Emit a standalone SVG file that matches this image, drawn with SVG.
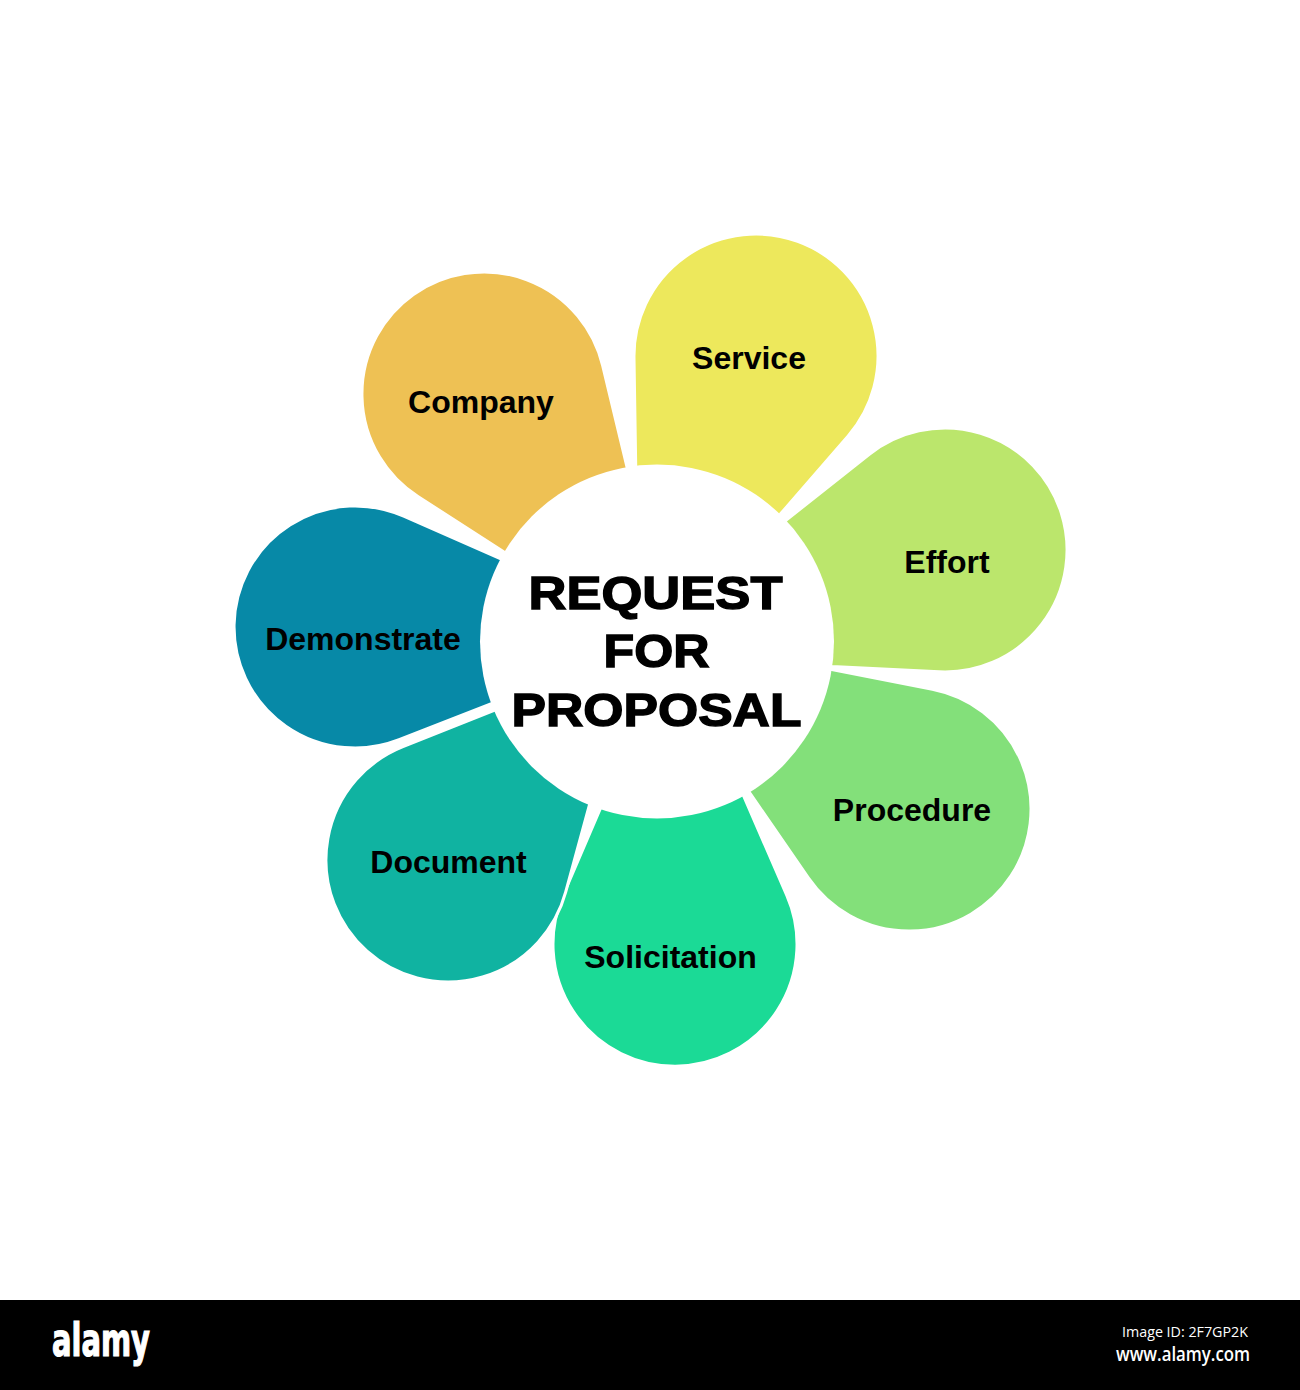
<svg xmlns="http://www.w3.org/2000/svg" width="1300" height="1390" viewBox="0 0 1300 1390">
  <style>
    .petal { stroke: #ffffff; stroke-width: 3; stroke-linejoin: round; }
    .label { font-family: "Liberation Sans", Arial, sans-serif; font-weight: bold; font-size: 32px; fill: #000000; text-anchor: middle; }
    .title { font-family: "Liberation Sans", Arial, sans-serif; font-weight: bold; font-size: 47px; fill: #000000; stroke: #000000; stroke-width: 1.4; text-anchor: middle; }
    .brand { font-family: "Liberation Sans Narrow", "DejaVu Sans Condensed", "Liberation Sans", sans-serif; font-weight: bold; fill: #ffffff; stroke: #ffffff; stroke-width: 1.2; }
    .foot { font-family: "Open Sans", "DejaVu Sans", sans-serif; fill: #ffffff; }
  </style>
  <rect x="0" y="0" width="1300" height="1390" fill="#ffffff"/>

  <g id="connectors"/>

  <g id="node-company">
    <path class="petal" fill="#EEC154" d="M 657 641 L 504.0 552.0 L 417.9 496.5 A 122 122 0 1 1 602.6 365.5 L 626.9 466.6 Z"/>
  </g>
  <g id="node-service">
    <path class="petal" fill="#EDE85C" d="M 657 641 L 635.7 465.3 L 634.0 358.0 A 122 122 0 1 1 848.2 435.9 L 780.4 514.1 Z"/>
  </g>
  <g id="node-effort">
    <path class="petal" fill="#BBE66C" d="M 657 641 L 786.2 520.1 L 869.3 454.3 A 122 122 0 1 1 939.0 671.8 L 832.1 666.6 Z"/>
  </g>
  <g id="node-procedure">
    <path class="petal" fill="#83E07A" d="M 657 641 L 831.7 669.6 L 932.4 689.3 A 122 122 0 1 1 808.5 878.2 L 749.2 792.1 Z"/>
  </g>
  <g id="node-solicitation">
    <path class="petal" fill="#1BDA96" d="M 657 641 L 743.4 795.5 L 786.8 895.3 A 122 122 0 1 1 562.9 896.0 L 600.3 808.7 Z"/>
  </g>
  <g id="node-document">
    <path class="petal" fill="#10B3A1" d="M 657 641 L 589.5 804.6 L 565.7 892.0 A 122 122 0 1 1 403.0 746.6 L 494.2 710.4 Z"/>
  </g>
  <g id="node-demonstrate">
    <path class="petal" fill="#0789A7" d="M 657 641 L 491.4 703.6 L 399.1 739.7 A 121 121 0 1 1 403.7 516.2 L 500.3 558.7 Z"/>
  </g>

  <g id="node-center">
    <circle cx="657" cy="641.5" r="177" fill="#ffffff"/>
    <text class="title" x="655.5" y="609" textLength="254" lengthAdjust="spacingAndGlyphs">REQUEST</text>
    <text class="title" x="656.5" y="667" textLength="106" lengthAdjust="spacingAndGlyphs" fill="#333333" stroke="#333333">FOR</text>
    <text class="title" x="656.5" y="726" textLength="290" lengthAdjust="spacingAndGlyphs">PROPOSAL</text>
  </g>

  <g id="labels">
    <text class="label" x="481" y="413">Company</text>
    <text class="label" x="749" y="369">Service</text>
    <text class="label" x="947" y="573">Effort</text>
    <text class="label" x="912" y="821">Procedure</text>
    <text class="label" x="670.5" y="968">Solicitation</text>
    <text class="label" x="448.5" y="873">Document</text>
    <text class="label" x="363" y="650">Demonstrate</text>
  </g>

  <g id="footer">
    <rect x="0" y="1300" width="1300" height="90" fill="#000000"/>
    <text class="brand" x="52" y="1356" font-size="46" textLength="98" lengthAdjust="spacingAndGlyphs">alamy</text>
    <text class="foot" x="1122" y="1337" font-size="15" textLength="126" lengthAdjust="spacingAndGlyphs">Image ID: 2F7GP2K</text>
    <text class="foot" x="1116" y="1361" font-size="19" font-weight="600" textLength="134" lengthAdjust="spacingAndGlyphs">www.alamy.com</text>
  </g>
</svg>
